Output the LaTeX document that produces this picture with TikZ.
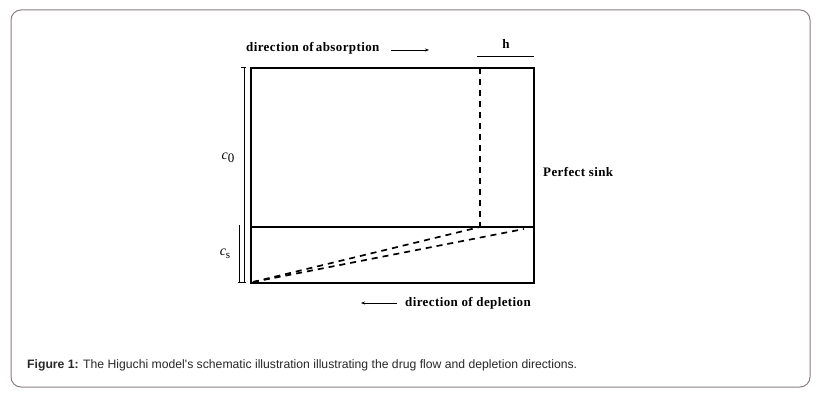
\documentclass[tikz,border=0pt]{standalone}
\usepackage{fontspec}
\setmainfont{Liberation Serif}
\newfontfamily\capfont{Liberation Sans}
\newfontfamily\lblfont[LetterSpace=3]{Liberation Serif}
\usetikzlibrary{arrows.meta}
\begin{document}
\begin{tikzpicture}[x=1pt,y=-1pt,
  thick line/.style={line width=1.8pt},
  dashline/.style={line width=1.7pt,dash pattern=on 6pt off 5pt},
  thin line/.style={line width=0.6pt},
  lbl/.style={font=\lblfont\bfseries\fontsize{13}{15}\selectfont,inner sep=0pt},
  arr/.style={line width=0.6pt,-{Stealth[length=4pt,width=3pt]}}]
\useasboundingbox (0,0) rectangle (819,401);
\fill[white] (0,0) rectangle (819,401);
\draw[color={rgb,255:red,140;green,128;blue,128},line width=1pt,rounded corners=10pt] (11,10) rectangle (810,387);
% main box
\coordinate (tl) at (251,68);
\coordinate (tr) at (534,68);
\coordinate (ml) at (251,227);
\coordinate (mr) at (534,227);
\coordinate (bl) at (251,283);
\coordinate (br) at (534,283);
\draw[thick line] (tl) rectangle (br);
\draw[thick line] (ml) -- (mr);
\coordinate (dt) at (480,68);
\coordinate (dm) at (480,227);
\coordinate (ds) at (524,229);
\coordinate (o) at (253,282);
\draw[dashline] (dt) -- (dm);
\draw[dashline] (o) -- (dm);
\draw[dashline] (o) -- (ds);
% left measures
\coordinate (c0t) at (244,67);
\coordinate (c0b) at (244,282);
\draw[thin line] (c0t) -- (c0b);
\draw[thin line] (241,67) -- (246,67);
\draw[thin line] (238,282) -- (246,282);
\coordinate (cst) at (239,225);
\coordinate (csb) at (239,282);
\draw[thin line] (cst) -- (csb);
\node[inner sep=0pt] (c0) at (228,158) {\fontsize{14}{16}\selectfont\textit{c}\raisebox{-3pt}{\fontsize{13}{15}\selectfont 0}};
\node[inner sep=0pt] (cs) at (225,254) {\fontsize{14}{16}\selectfont\textit{c}\raisebox{-3pt}{\fontsize{11}{13}\selectfont s}};
% h
\coordinate (h1) at (477,56);
\coordinate (h2) at (534,56);
\draw[thin line] (h1) -- (h2);
\node[lbl] (h) at (506,44) {h};
% labels
\node[lbl,anchor=west] (abs) at (246,48) {direction of\,absorption};
\coordinate (a1) at (391,50);
\coordinate (a2) at (429,50);
\draw[arr] (a1) -- (a2);
\node[lbl,anchor=west] (dep) at (405,303) {direction of depletion};
\coordinate (d1) at (397,303);
\coordinate (d2) at (361,303);
\draw[arr] (d1) -- (d2);
\node[lbl,anchor=west] (sink) at (543,172) {Perfect sink};
\node[anchor=west,inner sep=0pt,font=\capfont\fontsize{12.2}{14}\selectfont,color={rgb,255:red,40;green,40;blue,40}] (cap) at (27,365) {\textbf{Figure 1:} The Higuchi model's schematic illustration illustrating the drug flow and depletion directions.};
\end{tikzpicture}
\end{document}
